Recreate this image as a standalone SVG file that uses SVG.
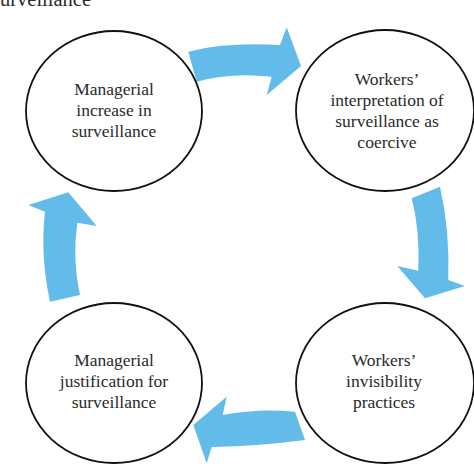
<svg xmlns="http://www.w3.org/2000/svg" width="474" height="466" viewBox="0 0 474 466">
<style>
.node ellipse{fill:#fff;stroke:#111;stroke-width:1.8}
.node text{font-family:"Liberation Serif","Times New Roman",serif;font-size:17.5px;fill:#2a2a2a;text-anchor:middle}
.arrow{fill:#62BBE9;stroke:none}
.title{font-family:"Liberation Serif","Times New Roman",serif;font-size:20.5px;fill:#2a2a2a}
</style>
<rect width="474" height="466" fill="#fff"/>
<text class="title" x="-8" y="6">surveillance</text>
<g id="connectors">
<path class="arrow" d="M188.3,51.7 Q225,42 280,45 L286.7,27.3 L301,66 L266.7,95 L271.7,76.7 Q230,72 196.7,81.7 Z"/>
<path class="arrow" d="M440,186.7 Q450,230 448.3,280 L465,286 L425,298.3 L397.3,266 L418.3,270.7 Q420,230 411.7,198.3 Z"/>
<path class="arrow" d="M305,440 Q260,446 211.7,447 L206.7,463.3 L193.3,425 L226.7,396.7 L222.7,415 Q260,408 295,411.7 Z"/>
<path class="arrow" d="M50,301.7 Q40,255 45,211.7 L28.3,205 L68.3,192.3 L96.7,226 L77.3,222.7 Q72,260 80,295 Z"/>
</g>
<g id="node1" class="node">
<ellipse cx="114" cy="111" rx="88" ry="80"/>
<text x="114" y="95">Managerial</text>
<text x="114" y="116">increase in</text>
<text x="114" y="137">surveillance</text>
</g>
<g id="node2" class="node">
<ellipse cx="385" cy="110.5" rx="89" ry="80.5"/>
<text x="387" y="85">Workers’</text>
<text x="387" y="106">interpretation of</text>
<text x="387" y="127">surveillance as</text>
<text x="387" y="148">coercive</text>
</g>
<g id="node3" class="node">
<ellipse cx="385" cy="383" rx="89" ry="80"/>
<text x="384" y="366">Workers’</text>
<text x="384" y="387">invisibility</text>
<text x="384" y="408">practices</text>
</g>
<g id="node4" class="node">
<ellipse cx="114" cy="383" rx="88" ry="80"/>
<text x="114" y="366">Managerial</text>
<text x="114" y="387">justification for</text>
<text x="114" y="408">surveillance</text>
</g>
</svg>
